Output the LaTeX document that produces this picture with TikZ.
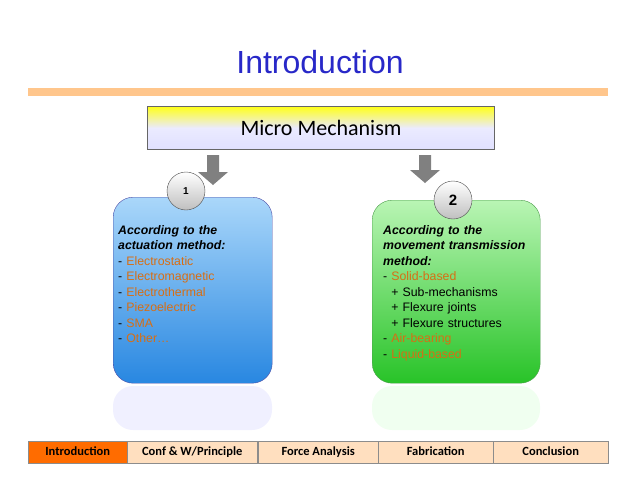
\documentclass[tikz,border=0pt]{standalone}
\usepackage{fontspec}
\setmainfont{Liberation Sans}
\newfontfamily\carlitofont{Carlito}
\definecolor{itemc}{RGB}{215,110,20}
\begin{document}
\begin{tikzpicture}[x=1pt,y=-1pt,
  tab/.style={draw=black!45,fill=orange!25,minimum height=22pt,text height=9pt,text depth=3pt,font=\carlitofont\bfseries\fontsize{12.5}{14}\selectfont,anchor=north west,inner sep=0pt},
  circ/.style={circle,draw=black!70,minimum size=38pt,inner sep=0pt,top color=white,bottom color=black!25,font=\bfseries},
  arr/.style={fill=black!50,draw=none},
  body/.style={align=left,anchor=north west,font=\fontsize{12.3}{15.5}\selectfont,text width=160pt,inner sep=0pt}]
\useasboundingbox (0,0) rectangle (638,493);
\node (title) at (320,62) {\fontsize{32}{36}\selectfont\color[RGB]{40,40,200}Introduction};
\fill[orange!45] (28,88) rectangle (608,96);
\node[draw=black!60,minimum width=347pt,minimum height=43pt,top color=yellow!90!white,bottom color=blue!12,middle color=blue!8,font=\carlitofont\fontsize{22}{26}\selectfont] (mm) at (321,128) {Micro Mechanism};
% reflections
\fill[blue!6,rounded corners=20pt] (113,386) rectangle (272,430);
\fill[green!6,rounded corners=20pt] (372,386) rectangle (540,430);
\node[draw=blue!50!black!70,top color={rgb,255:red,170;green,215;blue,250},bottom color={rgb,255:red,40;green,135;blue,225},rounded corners=20pt,minimum width=159pt,minimum height=186pt,anchor=north west] (b1) at (113,197) {};
\node[draw=green!45!black!70,top color={rgb,255:red,185;green,245;blue,180},bottom color={rgb,255:red,40;green,195;blue,40},rounded corners=20pt,minimum width=168pt,minimum height=183pt,anchor=north west] (b2) at (372,200) {};
\node[body] (t1) at (118,225) {\textbf{\textit{According to the\\actuation method:}}\\
- \textcolor{itemc}{Electrostatic}\\- \textcolor{itemc}{Electromagnetic}\\- \textcolor{itemc}{Electrothermal}\\- \textcolor{itemc}{Piezoelectric}\\- \textcolor{itemc}{SMA}\\- \textcolor{itemc}{Other…}};
\node[body] (t2) at (383,225) {\textbf{\textit{According to the\\movement transmission\\method:}}\\
- \textcolor{itemc}{Solid-based}\\
\ \ + Sub-mechanisms\\ \ \ + Flexure joints\\ \ \ + Flexure structures\\
- \textcolor{itemc}{Air-bearing}\\- \textcolor{itemc}{Liquid-based}};
\fill[arr] (207,155) -- (219,155) -- (219,172) -- (228,172) -- (213,185) -- (198,172) -- (207,172) -- cycle;
\fill[arr] (419,155) -- (431,155) -- (431,170) -- (440,170) -- (425,183) -- (410,170) -- (419,170) -- cycle;
\node[circ,font=\fontsize{10}{12}\selectfont\bfseries] (c1) at (186,191) {1};
\node[circ,font=\fontsize{15}{17}\selectfont\bfseries] (c2) at (453,200) {2};
\node[tab,fill=orange!85!red,minimum width=99pt] (n1) at (28,441) {Introduction};
\node[tab,minimum width=130pt] (n2) at (127,441) {Conf \& W/Principle};
\node[tab,minimum width=120pt] (n3) at (258,441) {Force Analysis};
\node[tab,minimum width=115pt] (n4) at (378,441) {Fabrication};
\node[tab,minimum width=115pt] (n5) at (493,441) {Conclusion};
\end{tikzpicture}
\end{document}
